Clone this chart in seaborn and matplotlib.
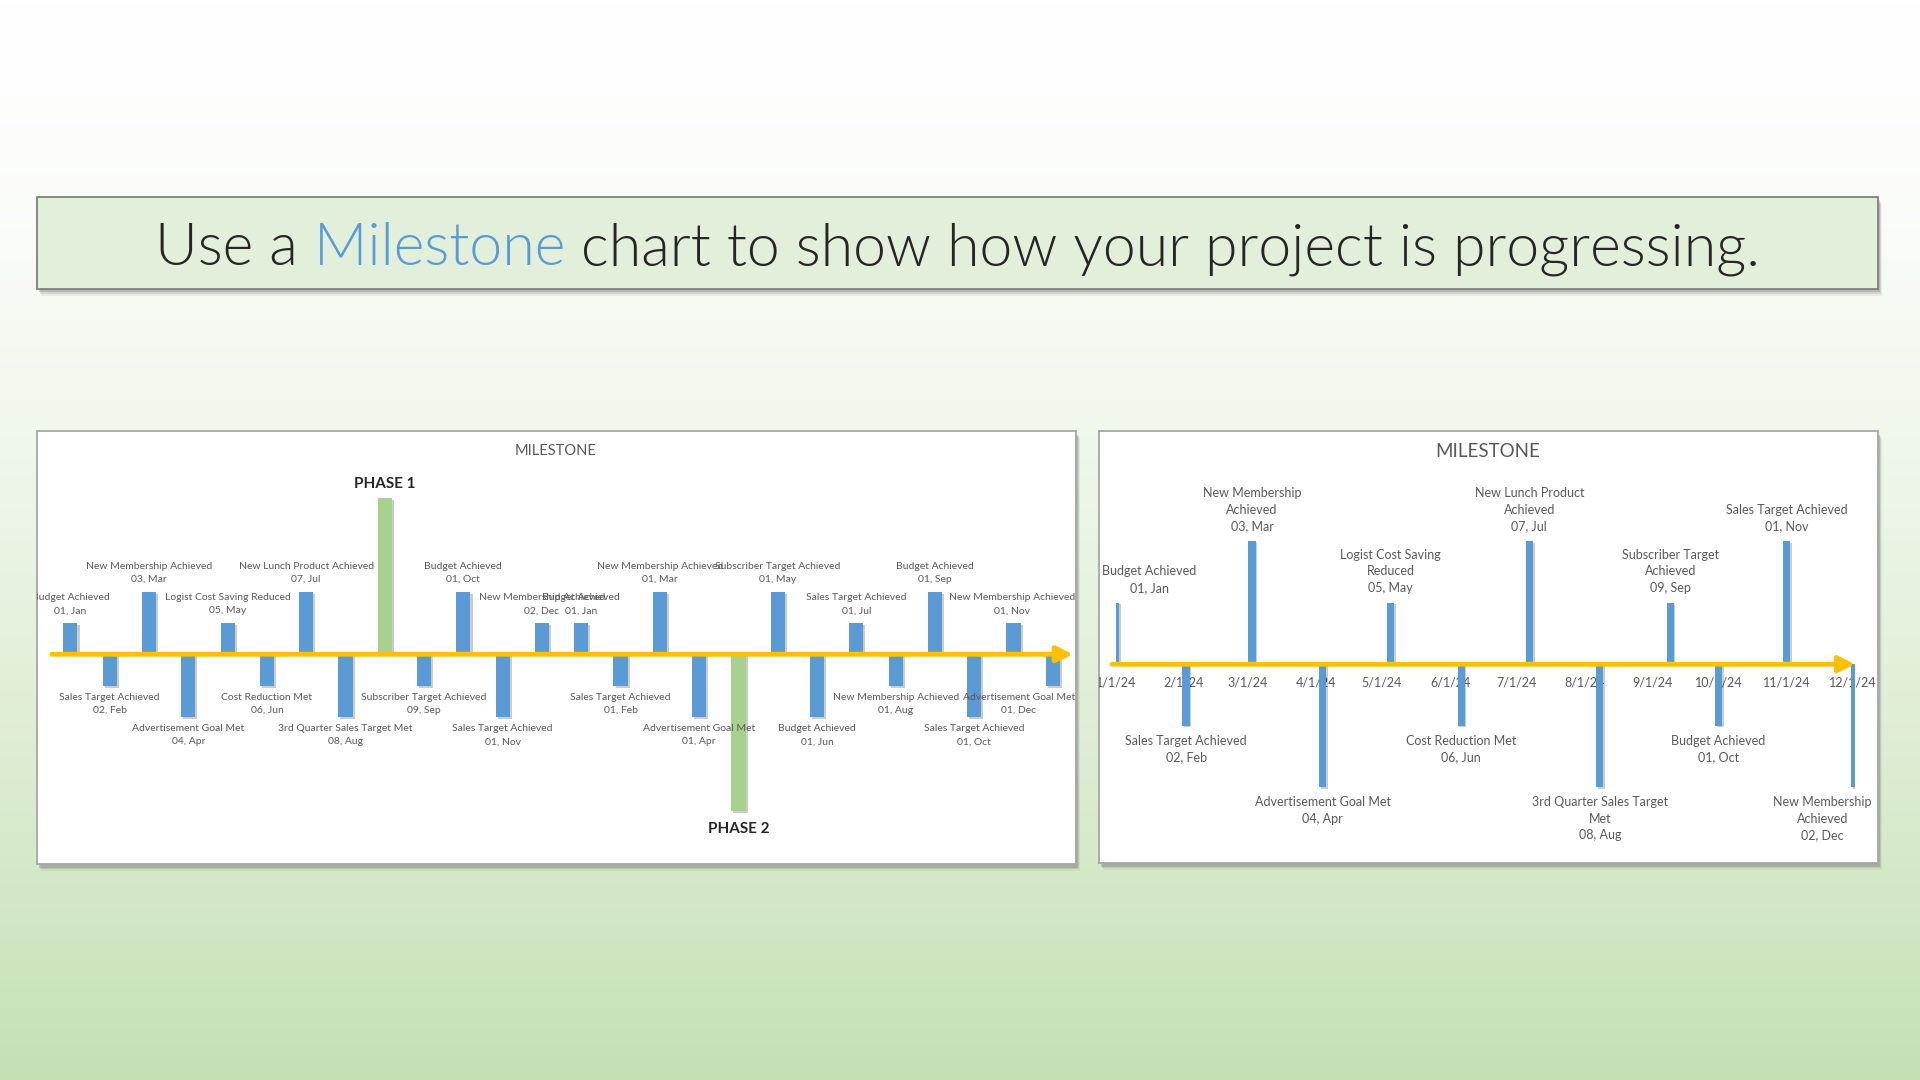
import numpy as np
import pandas as pd
import matplotlib
matplotlib.use("Agg")
import matplotlib.pyplot as plt
import matplotlib.dates as mdates
import matplotlib.patheffects as pe
from matplotlib.patches import Rectangle
import seaborn as sns

# ---------------- data ----------------
title_parts = ["Use a", " Milestone", " chart to show how your project is progressing."]
chart_title = "MILESTONE"

left_names = ["Budget Achieved", "Sales Target Achieved", "New Membership Achieved",
              "Advertisement Goal Met", "Logist Cost Saving Reduced", "Cost Reduction Met",
              "New Lunch Product Achieved", "3rd Quarter Sales Target Met", "PHASE 1",
              "Subscriber Target Achieved", "Budget Achieved", "Sales Target Achieved",
              "New Membership Achieved", "Budget Achieved", "Sales Target Achieved",
              "New Membership Achieved", "Advertisement Goal Met", "PHASE 2",
              "Subscriber Target Achieved", "Budget Achieved", "Sales Target Achieved",
              "New Membership Achieved", "Budget Achieved", "Sales Target Achieved",
              "New Membership Achieved", "Advertisement Goal Met"]
left_dates = ["01, Jan", "02, Feb", "03, Mar", "04, Apr", "05, May", "06, Jun", "07, Jul",
              "08, Aug", "", "09, Sep", "01, Oct", "01, Nov", "02, Dec", "01, Jan", "01, Feb",
              "01, Mar", "01, Apr", "", "01, May", "01, Jun", "01, Jul", "01, Aug", "01, Sep",
              "01, Oct", "01, Nov", "01, Dec"]
left_values = [1, -1, 2, -2, 1, -1, 2, -2, 5, -1, 2, -2, 1, 1, -1, 2, -2, -5,
               2, -2, 1, -1, 2, -2, 1, -1]
left_kinds = ["milestone"] * 8 + ["phase"] + ["milestone"] * 8 + ["phase"] + ["milestone"] * 8

right_labels = ["Budget Achieved", "Sales Target Achieved", "New Membership\nAchieved",
                "Advertisement Goal Met", "Logist Cost Saving\nReduced", "Cost Reduction Met",
                "New Lunch Product\nAchieved", "3rd Quarter Sales Target\nMet",
                "Subscriber Target\nAchieved", "Budget Achieved", "Sales Target Achieved",
                "New Membership\nAchieved"]
right_dates = ["2024-01-01", "2024-02-02", "2024-03-03", "2024-04-04", "2024-05-05",
               "2024-06-06", "2024-07-07", "2024-08-08", "2024-09-09", "2024-10-01",
               "2024-11-01", "2024-12-02"]
right_values = [1, -1, 2, -2, 1, -1, 2, -2, 1, -1, 2, -2]

BLUE = "#5b9bd5"
GREEN = "#a9d18e"
GOLD = "#ffc000"
GREY_TXT = "#595959"

sns.set_theme(style="white")
plt.rcParams["font.family"] = ["Lato", "DejaVu Sans"]

W, H = 1920, 1080
fig = plt.figure(figsize=(19.2, 10.8), dpi=100)


def fx(px):
    return px / W


def fy(py):
    return 1 - py / H


# ---------------- background gradient ----------------
bg = fig.add_axes([0, 0, 1, 1], zorder=-10)
t = np.linspace(0, 1, 540) ** 1.5
top = np.array([1.0, 1.0, 1.0])
bot = np.array([0xc5, 0xe0, 0xb3]) / 255
grad = top[None, :] * (1 - t[:, None]) + bot[None, :] * t[:, None]
bg.imshow(grad[:, None, :], aspect="auto", extent=[0, 1, 0, 1], origin="upper")
bg.set_axis_off()


def framed(x0, y0, x1, y1, face, edge, z):
    for k, a in [(7, 0.10), (5, 0.18), (3.5, 0.28)]:
        fig.add_artist(Rectangle((fx(x0 + k * 0.6), fy(y1 + k)), fx(x1 - x0), (y1 - y0) / H,
                                 transform=fig.transFigure, facecolor="#6f6f6f",
                                 alpha=a, edgecolor="none", zorder=z - 0.1))
    fig.add_artist(Rectangle((fx(x0), fy(y1)), fx(x1 - x0), (y1 - y0) / H,
                             transform=fig.transFigure, facecolor=face, edgecolor=edge,
                             lw=1.3, zorder=z))


# ---------------- banner ----------------
framed(37, 197, 1878, 289, "#e2efda", "#7f7f7f", -5)
cols = ["#262626", BLUE, "#262626"]
fs0 = 40
texts = [fig.text(0, 0, s, fontsize=fs0, color=c, fontweight=300) for s, c in zip(title_parts, cols)]
r = fig.canvas.get_renderer()
widths = [tt.get_window_extent(r).width for tt in texts]
fs = fs0 * 1603 / sum(widths)
for tt in texts:
    tt.set_fontsize(fs)
widths = [tt.get_window_extent(r).width for tt in texts]
cap = 0.72 * fs * 100 / 72
baseline = 244 + cap / 2
x = 957.5 - sum(widths) / 2
for tt, w in zip(texts, widths):
    tt.set_position((fx(x), fy(baseline)))
    tt.set_va("baseline")
    tt.set_ha("left")
    x += w

# ---------------- left chart ----------------
framed(37, 431, 1076, 864, "white", "#a6a6a6", -5)
axL = fig.add_axes([fx(37), fy(864), fx(1039), 433 / H])
axL.patch.set_alpha(0)
dfL = pd.DataFrame({"slot": range(len(left_values)), "value": left_values, "kind": left_kinds})
sns.barplot(data=dfL, x="slot", y="value", hue="kind", palette={"milestone": BLUE, "phase": GREEN},
            dodge=False, width=0.36, saturation=1, errorbar=None, legend=False, ax=axL)
for p in axL.patches:
    p.set_edgecolor("none")
    p.set_path_effects([pe.SimplePatchShadow(offset=(1.5, -1.5), shadow_rgbFace="black", alpha=0.2),
                        pe.Normal()])
axL.set_xlim(-0.85, 25.59)
axL.set_ylim(-6.70, 7.13)
axL.set_axis_off()
axL.annotate("", xy=(0.997, 0), xytext=(0.0144, 0),
             xycoords=("axes fraction", "data"), textcoords=("axes fraction", "data"),
             arrowprops=dict(arrowstyle="-|>,head_length=0.8,head_width=0.4", color=GOLD,
                             lw=3.5, shrinkA=0, shrinkB=0), zorder=4)
r = fig.canvas.get_renderer()
boxL = axL.get_window_extent(r)
for i, (n, d, v, k) in enumerate(zip(left_names, left_dates, left_values, left_kinds)):
    up = v > 0
    if k == "phase":
        axL.annotate(n, (i, v), xytext=(0, 5 if up else -8), textcoords="offset points",
                     ha="center", va="bottom" if up else "top", fontsize=11,
                     fontweight="bold", color="#262626", annotation_clip=False)
    else:
        dy = 5.5 if up else -5.5
        a = axL.annotate(f"{n}\n{d}", (i, v), xytext=(0, dy),
                         textcoords="offset points", ha="center", va="bottom" if up else "top",
                         fontsize=7.5, color=GREY_TXT, linespacing=1.55, clip_on=True,
                         annotation_clip=False)
        bb = a.get_window_extent(r)
        if bb.x1 > boxL.x1 - 1:
            a.set_position(((boxL.x1 - 1 - bb.x1) * 72 / 100, dy))
fig.text(fx(556), fy(451), chart_title, ha="center", va="center", fontsize=10.5, color=GREY_TXT)

# ---------------- right chart ----------------
framed(1099, 431, 1878, 863, "white", "#a6a6a6", -5)
boxR = fig.add_axes([fx(1099), fy(863), fx(779), 432 / H], zorder=-4)
boxR.set_axis_off()
axR = fig.add_axes([fx(1115.7), fy(863), fx(739.3), 432 / H])
axR.patch.set_alpha(0)
dn = mdates.date2num(pd.to_datetime(right_dates))
dfR = pd.DataFrame({"date": dn, "value": right_values})
sns.barplot(data=dfR, x="date", y="value", native_scale=True, color=BLUE, width=0.15,
            saturation=1, errorbar=None, ax=axR)
for p in axR.patches:
    p.set_edgecolor("none")
    p.set_path_effects([pe.SimplePatchShadow(offset=(1.2, -1.2), shadow_rgbFace="black", alpha=0.2),
                        pe.Normal()])
axR.set_xlim(dn[0], dn[-1])
axR.set_ylim(-3.23, 3.79)
for s in axR.spines.values():
    s.set_visible(False)
axR.spines["bottom"].set_position(("data", 0))
axR.set_yticks([])
axR.set_xlabel("")
axR.set_ylabel("")
axR.xaxis.set_major_locator(mdates.MonthLocator())
axR.xaxis.set_major_formatter(
    plt.FuncFormatter(lambda v, pos: (lambda d: f"{d.month}/{d.day}/{d.year % 100}")(mdates.num2date(v))))
axR.tick_params(axis="x", length=0, pad=9, labelsize=9, labelcolor=GREY_TXT)
for lbl in axR.get_xticklabels():
    lbl.set_clip_on(True)
    lbl.set_clip_box(boxR.bbox)
axR.annotate("", xy=(1.0, 0), xytext=(-0.005, 0),
             xycoords=("axes fraction", "data"), textcoords=("axes fraction", "data"),
             arrowprops=dict(arrowstyle="-|>,head_length=0.8,head_width=0.4", color=GOLD,
                             lw=3.5, shrinkA=0, shrinkB=0), zorder=4, annotation_clip=False)
r = fig.canvas.get_renderer()
boxbb = boxR.get_window_extent(r)
for d, v, lab in zip(dn, right_values, right_labels):
    up = v > 0
    txt = f"{lab}\n{mdates.num2date(d).strftime('%d, %b')}"
    dy = 6.3 if up else -6.3
    a = axR.annotate(txt, (d, v), xytext=(0, dy), textcoords="offset points", ha="center",
                     va="bottom" if up else "top", fontsize=9, color=GREY_TXT,
                     linespacing=1.45, annotation_clip=False)
    bb = a.get_window_extent(r)
    shift = 0
    if bb.x0 < boxbb.x0 + 3:
        shift = boxbb.x0 + 3 - bb.x0
    elif bb.x1 > boxbb.x1 - 6:
        shift = boxbb.x1 - 6 - bb.x1
    if shift:
        a.set_position((shift * 72 / 100, dy))
fig.text(fx(1488), fy(451.7), chart_title, ha="center", va="center", fontsize=13.5, color=GREY_TXT)

fig.savefig("out.png", dpi=100)
